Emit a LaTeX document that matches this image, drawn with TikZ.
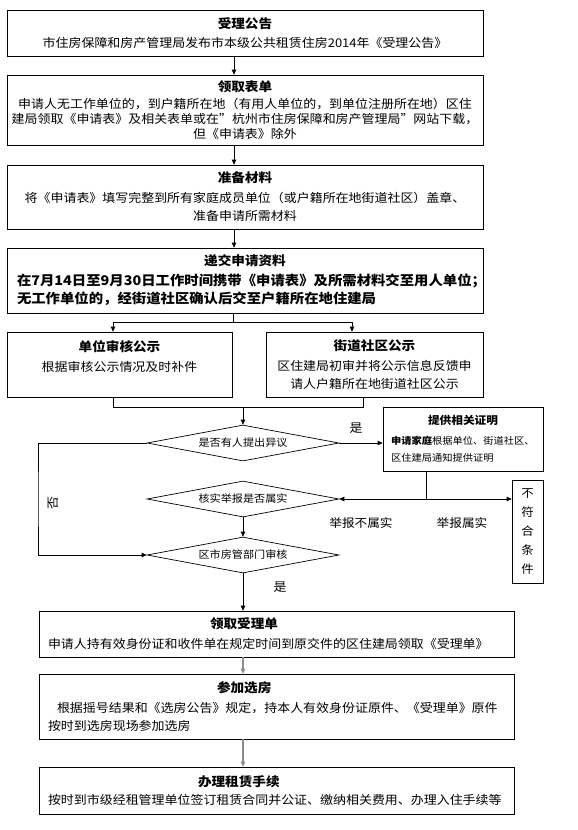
\documentclass[tikz,border=0pt]{standalone}
\usepackage{fontspec}
\setmainfont{Noto Sans CJK SC}[FakeStretch=1.08]
\usetikzlibrary{arrows.meta,shapes.geometric}
\newcommand\bodysize{\fontsize{12}{18}\selectfont}
\newcommand\headsize{\fontsize{12.6}{18}\selectfont\bfseries}
\tikzset{
  box/.style={draw, line width=0.7pt, inner sep=0pt, align=center, font=\bodysize},
  kwide/.style={box, minimum width=476pt},
  klow/.style={box, align=left, minimum width=475pt, inner xsep=9pt, text width=457pt},
  kcheck/.style={draw, line width=0.7pt, diamond, aspect=5.3, inner sep=0pt, minimum width=192pt, minimum height=36pt, font=\fontsize{10.3}{12}\selectfont},
  knote/.style={inner sep=0pt, font=\fontsize{12}{14}\selectfont},
  link/.style={line width=0.7pt},
  flow/.style={-{Triangle[length=5pt, width=4.5pt]}, line width=0.7pt},
  greyflow/.style={flow, draw=black!45, line width=1.3pt},
}

\begin{document}
\begin{tikzpicture}[x=1pt, y=-1pt]
    \useasboundingbox (0,0) rectangle (578,830);
    \node[kwide, minimum height=46pt] (notice) at (245,33) {{\headsize 受理公告}\\[1pt]市住房保障和房产管理局发布市本级公共租赁住房2014年《受理公告》};
    \node[kwide, minimum height=70pt, font=\fontsize{12}{15}\selectfont] (form) at (245,110) {{\headsize 领取表单}\\[2pt]申请人无工作单位的，到户籍所在地（有用人单位的，到单位注册所在地）区住\\建局领取《申请表》及相关表单或在”杭州市住房保障和房产管理局”网站下载，\\但《申请表》除外};
    \node[kwide, minimum height=64pt] (prepare) at (245,197) {{\headsize 准备材料}\\[2pt]将《申请表》填写完整到所有家庭成员单位（或户籍所在地街道社区）盖章、\\准备申请所需材料};
    \node[kwide, minimum height=65pt, align=left, inner xsep=10pt, text width=456pt, font=\fontsize{13.3}{18}\selectfont\bfseries] (submit) at (245,280.5) {\hfill{\headsize 递交申请资料}\hfill\mbox{}\\[2pt]在7月14日至9月30日工作时间携带《申请表》及所需材料交至用人单位；\\无工作单位的，经街道社区确认后交至户籍所在地住建局};
    \node[box, minimum width=225pt, minimum height=65pt] (unit) at (119.5,364.5) {{\headsize 单位审核公示}\\[2pt]根据审核公示情况及时补件\\~};
    \node[box, minimum width=217pt, minimum height=65pt] (street) at (374.5,364.5) {{\headsize 街道社区公示}\\[2pt]区住建局初审并将公示信息反馈申\\请人户籍所在地街道社区公示};
    \node[kcheck] (objection) at (243,443) {是否有人提出异议};
    \node[box, align=left, minimum width=160pt, minimum height=64pt, inner xsep=8pt, text width=144pt, font=\fontsize{9.5}{17}\selectfont] (proof) at (463,439) {\hfill{\fontsize{10.8}{17}\selectfont\bfseries 提供相关证明}\hfill\mbox{}\\[3pt]{\bfseries 申请家庭}根据单位、街道社区、\\区住建局通知提供证明};
    \node[kcheck] (verify) at (243,499) {核实举报是否属实};
    \node[box, minimum width=31pt, minimum height=103pt, font=\fontsize{11.5}{19}\selectfont] (reject) at (527.5,531.5) {不\\符\\合\\条\\件};
    \node[kcheck] (review) at (243,555) {区市房管部门审核};
    \node[klow, minimum height=46pt] (ticket) at (276.5,634) {\hspace*{162pt}{\headsize 领取受理单}\\[2pt]申请人持有效身份证和收件单在规定时间到原交件的区住建局领取《受理单》};
    \node[klow, minimum height=65pt] (choose) at (276.5,706.5) {\hspace*{169pt}{\headsize 参加选房}\\[2pt]\hspace*{9pt}根据摇号结果和《选房公告》规定，持本人有效身份证原件、《受理单》原件\\按时到选房现场参加选房};
    \node[klow, minimum height=47pt] (lease) at (276.5,790.5) {\hspace*{150pt}{\headsize 办理租赁手续}\\按时到市级经租管理单位签订租赁合同并公证、缴纳相关费用、办理入住手续等};
    \node[knote] (yes1) at (356,428) {是};
    \node[knote, rotate=90] (no1) at (53,503) {否};
    \node[knote, font=\fontsize{11.7}{14}\selectfont] (false) at (361,523) {举报不属实};
    \node[knote, font=\fontsize{11.7}{14}\selectfont] (true) at (462,523) {举报属实};
    \node[knote] (yes2) at (280,587) {是};
    \coordinate (axis) at (234,0);
    \coordinate (split) at (233,322);
    \coordinate (splitL) at (113,322);
    \coordinate (splitR) at (352,322);
    \coordinate (mergeL) at (113,407);
    \coordinate (mergeR) at (363,407);
    \coordinate (merge) at (243,407);
    \coordinate (proofout) at (426,499);
    \coordinate (noleft) at (38,499);
    \draw[flow] (notice.south -| axis) -- (form.north -| axis);
    \draw[flow] (form.south -| axis) -- (prepare.north -| axis);
    \draw[flow] (prepare.south -| axis) -- (submit.north -| axis);
    \draw[link] (submit.south -| split) -- (split);
    \draw[link] (splitL) -- (splitR);
    \draw[flow] (splitL) -- (unit.north -| splitL);
    \draw[flow] (splitR) -- (street.north -| splitR);
    \draw[link] (unit.south -| mergeL) -- (mergeL) -- (mergeR) -- (street.south -| mergeR);
    \draw[flow] (merge) -- (objection.north);
    \draw[flow] (objection.east) -- (proof.west |- objection.east);
    \draw[link] (proof.south -| proofout) -- (proofout);
    \draw[flow] (proofout) -- (verify.east);
    \draw[flow] (proofout) -- (reject.west |- proofout);
    \draw[flow] (objection.west) -| (noleft) |- (review.west);
    \draw[flow] (verify.south) -- (review.north);
    \draw[flow] (review.south) -- (ticket.north -| review.south);
    \draw[greyflow] (ticket.south -| review.south) -- (choose.north -| review.south);
    \draw[greyflow] (choose.south -| review.south) -- (lease.north -| review.south);
  \end{tikzpicture}
\end{document}
